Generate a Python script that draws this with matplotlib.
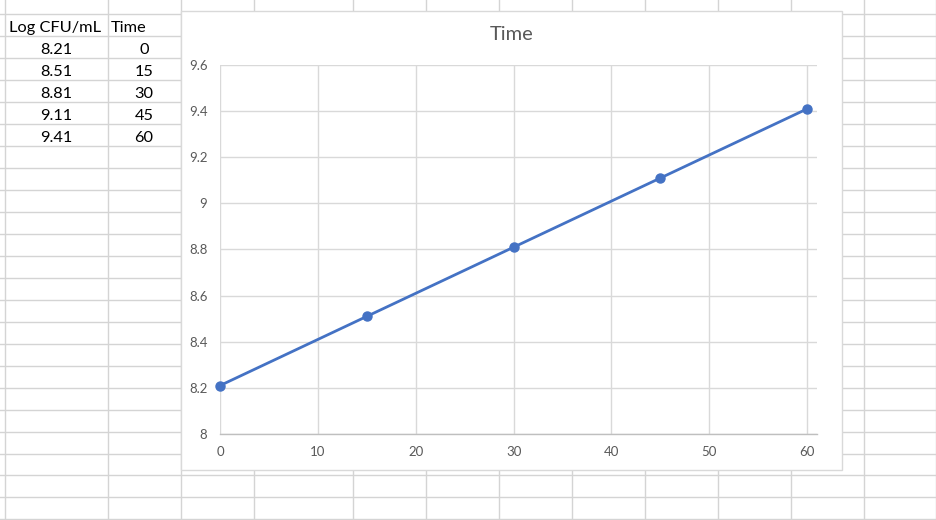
import matplotlib.pyplot as plt
from matplotlib.patches import Rectangle
import numpy as np

plt.rcParams['font.family'] = ['Lato', 'DejaVu Sans']

# worksheet values
log_cfu = [8.21, 8.51, 8.81, 9.11, 9.41]
time_min = [0, 15, 30, 45, 60]
col_headers = ['Log CFU/mL', 'Time']

y_ticks = [8, 8.2, 8.4, 8.6, 8.8, 9, 9.2, 9.4, 9.6]
x_ticks = [0, 10, 20, 30, 40, 50, 60]

W, H = 937, 520
fig = plt.figure(figsize=(W / 100, H / 100), dpi=100)
fig.set_facecolor('w')

# background sheet in pixel coords
bg = fig.add_axes([0, 0, 1, 1])
bg.set_xlim(0, W)
bg.set_ylim(H, 0)
bg.axis('off')

cell_col = '#d4d4d4'
col_lines = [5, 108, 181, 254, 353, 426, 499, 572, 645, 718, 791, 864, 936]
row_lines = 14.3 + 21.96 * np.arange(24)
for x in col_lines:
    bg.plot([x, x], [0, H], color=cell_col, lw=1, zorder=1)
for y in row_lines:
    bg.plot([0, W], [y, y], color=cell_col, lw=1, zorder=1)

# table text
txt_kw = dict(fontsize=11.8, color='black', va='center', zorder=2)
bg.text(9, 28, col_headers[0], ha='left', **txt_kw)
bg.text(111, 28, col_headers[1], ha='left', **txt_kw)
for i, (v, t) in enumerate(zip(log_cfu, time_min)):
    yc = 50 + 22 * i
    bg.text(56.5, yc, '%.2f' % v, ha='center', **txt_kw)
    bg.text(144, yc, '%d' % t, ha='center', **txt_kw)

# chart box
bg.add_patch(Rectangle((181, 11), 842 - 181, 470 - 11, facecolor='white',
                       edgecolor='#d9d9d9', lw=1, zorder=3))
bg.text(511.5, 35, 'Time', ha='center', va='center', fontsize=14.5,
        color='#595959', zorder=4)

# plot area
x0, x1, y0, y1 = 220, 817, 65, 434
ax = fig.add_axes([x0 / W, (H - y1) / H, (x1 - x0) / W, (y1 - y0) / H])
ax.set_facecolor('none')
ax.plot(time_min, log_cfu, '-o', color='#4472C4', lw=2, markersize=6.5, zorder=3,
        clip_on=False)
ax.set_xlim(0, 61)
ax.set_ylim(8, 9.6)
ax.set_xticks(x_ticks)
ax.set_yticks(y_ticks)
ax.set_yticklabels([('%g' % v) for v in y_ticks])
ax.grid(True, color='#d9d9d9', lw=1)
ax.set_axisbelow(True)
for s in ['top', 'right', 'left']:
    ax.spines[s].set_visible(False)
ax.spines['bottom'].set_color('#bfbfbf')
ax.spines['bottom'].set_linewidth(1)
ax.tick_params(axis='both', length=0, labelsize=9.5, labelcolor='#595959')
ax.tick_params(axis='y', pad=9)
ax.tick_params(axis='x', pad=8.5)

fig.savefig('out.png', dpi=100, facecolor='w')
